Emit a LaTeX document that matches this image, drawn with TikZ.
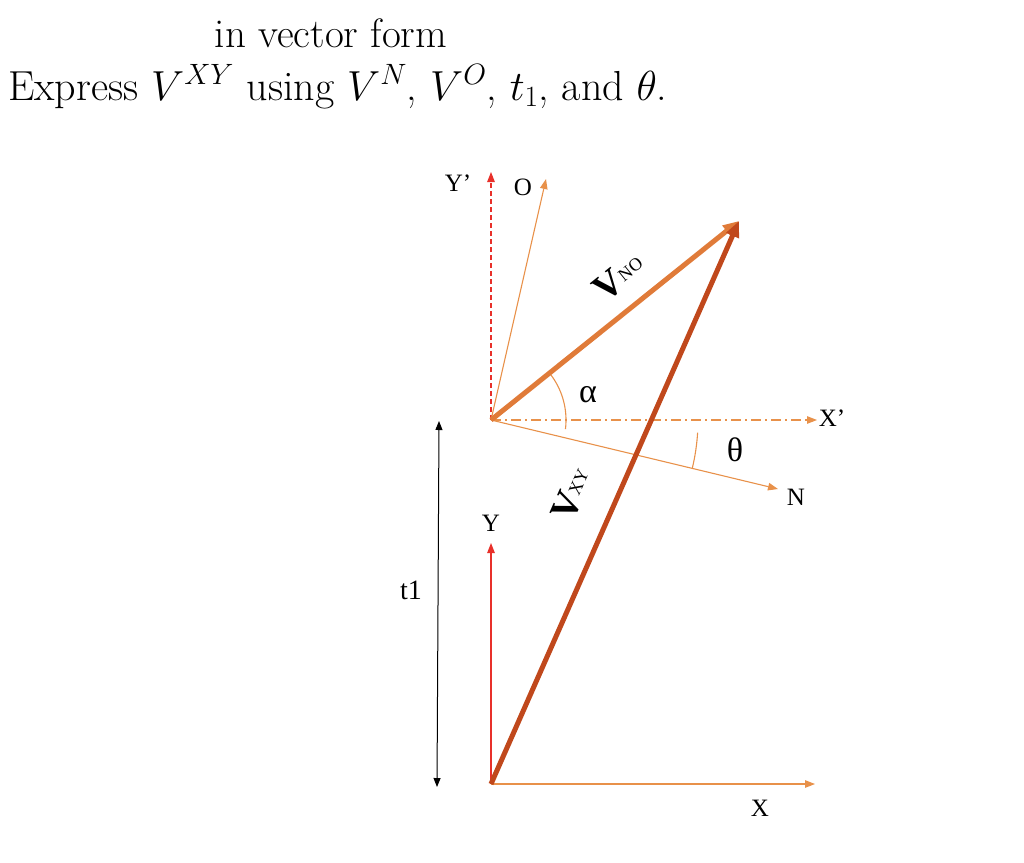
\RequirePackage{fix-cm}
\documentclass[tikz,border=0pt]{standalone}
\usepackage{fontspec}
\newfontfamily\tms{Liberation Serif}
\usetikzlibrary{arrows.meta}
\definecolor{axorange}{RGB}{232,145,74}
\definecolor{vnoorange}{RGB}{224,123,57}
\definecolor{vxyred}{RGB}{192,72,28}
\definecolor{axred}{RGB}{232,48,42}
\tikzset{
  tip/.style={-{Triangle[length=10pt,width=7.5pt]}},
  bigtip/.style={-{Triangle[length=16pt,width=13pt]}},
  axlabel/.style={font=\tms\fontsize{25}{25}\selectfont, inner sep=0pt},
  thinax/.style={line width=1.1pt},
}
\begin{document}
\begin{tikzpicture}[x=1pt,y=-1pt]
\useasboundingbox (0,0) rectangle (1024,862);
% title
\node[anchor=base, inner sep=0pt, font=\fontsize{41}{48}\selectfont] (t1line) at (331,47) {in vector form};
\node[anchor=base west, inner sep=0pt, font=\fontsize{42}{48}\selectfont] (t2line) at (8,100) {Express $V^{XY}$ using $V^N$, $V^O$, $t_1$, and $\theta$.};
% coordinates
\coordinate (Olow) at (491,784);
\coordinate (Oup) at (491,420);
\coordinate (Yend) at (491,543);
\coordinate (Xend) at (815,784);
\coordinate (Ypend) at (491,172);
\coordinate (Oend) at (546,179);
\coordinate (Xpend) at (817,420);
\coordinate (Nend) at (778,489);
\coordinate (Vtip) at (739,221);
\coordinate (Ttop) at (439,421);
\coordinate (Tbot) at (437,787);
% lower axes
\draw[thinax, axred, tip] (Olow) -- (Yend);
\draw[thinax, axorange, tip] (Olow) -- (Xend);
% upper axes
\draw[thinax, axred, dash pattern=on 5pt off 3pt, tip] (Oup) -- (Ypend);
\draw[thinax, axorange, tip] (Oup) -- (Oend);
\draw[thinax, axorange, dash pattern=on 10pt off 4pt on 2pt off 4pt, tip] (Oup) -- (Xpend);
\draw[thinax, axorange, tip] (Oup) -- (Nend);
% angle arcs
\draw[thinax, axorange] (Oup) ++(-38.8:75) arc[start angle=-38.8, end angle=7, radius=75];
\draw[thinax, axorange] (Oup) ++(13.4:207) arc[start angle=13.4, end angle=3.5, radius=207];
% vectors
\draw[line width=5pt, vnoorange, bigtip] (Oup) -- (Vtip);
\draw[line width=5pt, vxyred, bigtip] (Olow) -- (Vtip);
% t1 double arrow
\draw[line width=1pt, black, {Triangle[length=9pt,width=7pt]}-{Triangle[length=9pt,width=7pt]}] (Ttop) -- (Tbot);
% labels
\node[axlabel] (lY) at (491,523) {Y};
\node[axlabel] (lX) at (760,808) {X};
\node[axlabel] (lYp) at (458,183) {Y’};
\node[axlabel] (lO) at (523,187) {O};
\node[axlabel] (lXp) at (832,418) {X’};
\node[axlabel] (lN) at (796,497) {N};
\node[axlabel, font=\tms\fontsize{28}{28}\selectfont] (lt1) at (411,590) {t1};
\node[axlabel, font=\tms\fontsize{34}{34}\selectfont] (lalpha) at (588,395) {α};
\node[axlabel, font=\tms\fontsize{34}{34}\selectfont] (ltheta) at (735,450) {θ};
\node[inner sep=0pt, rotate=38.8] (lvno) at (619,277) {\tms{\fontsize{38}{38}\selectfont\bfseries V}{\fontsize{18}{18}\selectfont\raisebox{5pt}{NO}}};
\node[inner sep=0pt, rotate=66.4] (lvxy) at (572,494) {\tms{\fontsize{38}{38}\selectfont\bfseries V}{\fontsize{18}{18}\selectfont\raisebox{5pt}{XY}}};
\end{tikzpicture}
\end{document}
